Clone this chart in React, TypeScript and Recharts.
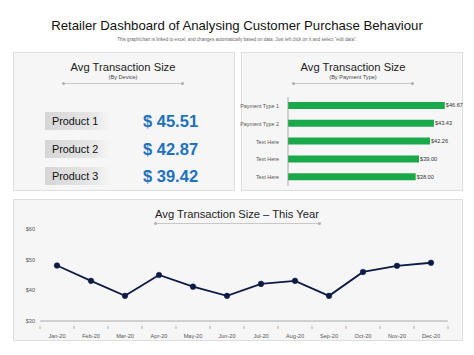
import React from 'react';
import { BarChart, Bar, LineChart, Line, XAxis, YAxis, LabelList } from 'recharts';

const productNames = ['Product 1', 'Product 2', 'Product 3'];
const productValues = [45.51, 42.87, 39.42];

const paymentTypes = ['Payment Type 1', 'Payment Type 2', 'Text Here', 'Text Here', 'Text Here'];
const paymentValues = [46.67, 43.43, 42.26, 39.0, 38.0];

const months = ['Jan-20', 'Feb-20', 'Mar-20', 'Apr-20', 'May-20', 'Jun-20', 'Jul-20', 'Aug-20', 'Sep-20', 'Oct-20', 'Nov-20', 'Dec-20'];
const monthValues = [48.1, 43.1, 38.2, 45.0, 41.2, 38.2, 42.1, 43.1, 38.2, 46.0, 48.0, 49.0];
const yTicks = [30, 40, 50, 60];

const FONT = '"Liberation Sans", Arial, sans-serif';

const panel: React.CSSProperties = {
  position: 'absolute',
  background: '#f6f6f6',
  border: '1px solid #dedede',
  boxSizing: 'border-box',
};

// title with the little dotted rule under it
const PanelTitle = ({ x, y, w, title, sub, lineW }: { x: number; y: number; w: number; title: string; sub?: string; lineW: number }) => (
  <>
    <div style={{ position: 'absolute', left: x - w / 2, top: y - 7, width: w, textAlign: 'center', fontSize: 11.2, color: '#222', lineHeight: '14px' }}>{title}</div>
    {sub && (
      <div style={{ position: 'absolute', left: x - w / 2, top: y + 7, width: w, textAlign: 'center', fontSize: 5.6, color: '#444', lineHeight: '7px' }}>{sub}</div>
    )}
    <div style={{ position: 'absolute', left: x - lineW / 2, top: y + (sub ? 15.5 : 9), width: lineW, height: 1, background: '#c8c8c8' }} />
    <div style={{ position: 'absolute', left: x - lineW / 2 - 1, top: y + (sub ? 14.5 : 8), width: 3, height: 3, borderRadius: 2, background: '#b0b0b0' }} />
    <div style={{ position: 'absolute', left: x + lineW / 2 - 2, top: y + (sub ? 14.5 : 8), width: 3, height: 3, borderRadius: 2, background: '#b0b0b0' }} />
  </>
);

const MonthTick = (props: any) => {
  const { x, y, payload, index } = props;
  const half = 17;
  return (
    <g>
      <line x1={x - half} x2={x - half} y1={y - 3} y2={y} stroke="#999" strokeWidth={0.8} />
      {index === months.length - 1 && <line x1={x + half} x2={x + half} y1={y - 3} y2={y} stroke="#999" strokeWidth={0.8} />}
      <text x={x} y={y + 9} textAnchor="middle" fontSize={5.6} fill="#555" fontFamily={FONT}>{payload.value}</text>
    </g>
  );
};

const PaymentTick = (props: any) => {
  const { x, y, payload } = props;
  return (
    <text x={x} y={y} dy={2} textAnchor="end" fontSize={5.4} fill="#555" fontFamily={FONT}>
      {paymentTypes[payload.value]}
    </text>
  );
};

export default function App() {
  const barData = paymentTypes.map((name, i) => ({ key: i, name, value: paymentValues[i] }));
  const lineData = months.map((m, i) => ({ month: m, value: monthValues[i] }));

  return (
    <div style={{ position: 'absolute', left: 0, top: 0, width: 474, height: 355, background: '#fff', fontFamily: FONT, overflow: 'hidden' }}>
      <div style={{ position: 'absolute', left: 0, top: 17, width: 474, textAlign: 'center', fontSize: 13.2, color: '#111', lineHeight: '17px' }}>
        Retailer Dashboard of Analysing Customer Purchase Behaviour
      </div>
      <div style={{ position: 'absolute', left: 0, top: 37, width: 474, textAlign: 'center', fontSize: 4.6, color: '#666', lineHeight: '6px' }}>
        This graph/chart is linked to excel, and changes automatically based on data. Just left click on it and select "edit data".
      </div>

      <div style={{ ...panel, left: 13, top: 52, width: 222, height: 139 }} />
      <div style={{ ...panel, left: 241, top: 52, width: 222, height: 139 }} />
      <div style={{ ...panel, left: 13, top: 199, width: 450, height: 142 }} />

      <PanelTitle x={123} y={67} w={200} title="Avg Transaction Size" sub="(By Device)" lineW={120} />
      <PanelTitle x={353} y={67} w={200} title="Avg Transaction Size" sub="(By Payment Type)" lineW={120} />
      <PanelTitle x={237} y={214} w={240} title="Avg Transaction Size – This Year" lineW={165} />

      {productNames.map((p, i) => {
        const top = [112, 140, 167][i];
        return (
          <React.Fragment key={p}>
            <div style={{ position: 'absolute', left: 45, top, width: 66, height: 18, background: 'linear-gradient(90deg, #d6d6d6 0%, #e6e6e6 70%, #f6f6f6 100%)' }} />
            <div style={{ position: 'absolute', left: 52, top, height: 18, lineHeight: '18px', fontSize: 10.8, color: '#111' }}>{p}</div>
            <div style={{ position: 'absolute', left: 143, top: top - 2, height: 22, lineHeight: '22px', fontSize: 16.5, fontWeight: 700, color: '#1e72bb' }}>
              $ {productValues[i].toFixed(2)}
            </div>
          </React.Fragment>
        );
      })}

      <div style={{ position: 'absolute', left: 240, top: 52 }}>
        <BarChart width={230} height={139} data={barData} layout="vertical" margin={{ top: 45, right: 14, bottom: 5, left: 0 }} barSize={7}>
          <XAxis type="number" domain={[0, 50]} hide />
          <YAxis
            type="category"
            dataKey="key"
            width={48}
            interval={0}
            tickLine={false}
            axisLine={{ stroke: '#9a9a9a', strokeWidth: 0.8 }}
            tickMargin={3}
            tick={<PaymentTick />}
          />
          <Bar dataKey="value" fill="#19a84a" isAnimationActive={false}>
            <LabelList dataKey="value" position="right" offset={1} formatter={(v: any) => `$${Number(v).toFixed(2)}`} style={{ fontSize: 5.6, fill: '#333', fontFamily: FONT }} />
          </Bar>
        </BarChart>
      </div>

      <div style={{ position: 'absolute', left: 12, top: 198 }}>
        <LineChart width={450} height={142} data={lineData} margin={{ top: 31, right: 14, bottom: 0, left: 0 }}>
          <XAxis
            dataKey="month"
            height={19}
            padding={{ left: 17, right: 17 }}
            axisLine={{ stroke: '#999', strokeWidth: 0.8 }}
            tickLine={false}
            interval={0}
            tick={<MonthTick />}
          />
          <YAxis
            domain={[30, 60]}
            ticks={yTicks}
            width={28}
            axisLine={false}
            tickLine={false}
            tickSize={3}
            tickMargin={2}
            tick={{ fontSize: 5.6, fill: '#555', fontFamily: FONT }}
            tickFormatter={(v: number) => `$${v}`}
          />
          <Line
            dataKey="value"
            stroke="#0d1b45"
            strokeWidth={1.8}
            dot={{ r: 2.8, fill: '#0d1b45', stroke: '#0d1b45', strokeWidth: 0.5 }}
            isAnimationActive={false}
          />
        </LineChart>
      </div>
    </div>
  );
}
